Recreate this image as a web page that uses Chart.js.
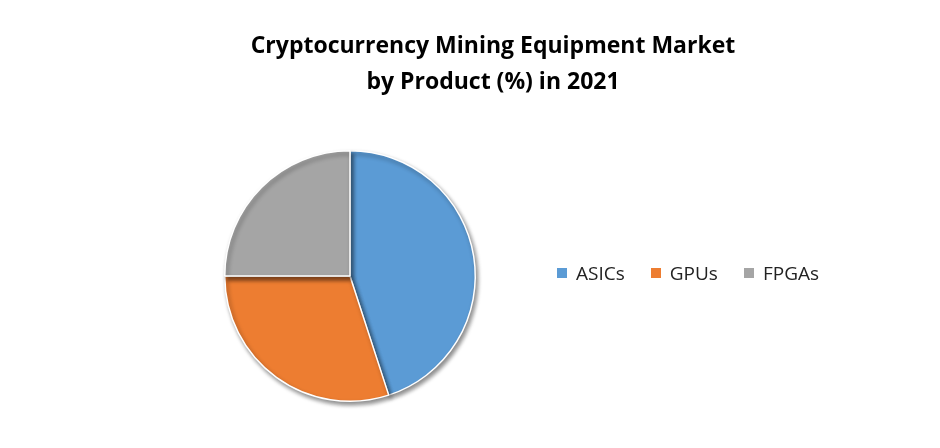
<!DOCTYPE html>
<html>
<head>
<meta charset="utf-8">
<script src="https://cdn.jsdelivr.net/npm/chart.js@4/dist/chart.umd.min.js"></script>
<style>
  body { margin: 0; background: #fff; }
  #wrap { position: relative; width: 940px; height: 448px; }
  #title { position: absolute; left: 0; width: 986px; top: 26px; text-align: center;
    font: bold 23px "Open Sans", "Liberation Sans", sans-serif; line-height: 36px; color: #000; }
  #legend { position: absolute; left: 557px; top: 260px; font: 19px "Open Sans", "Liberation Sans", sans-serif; color: #222; display: flex; }
  #legend span.item { display: flex; align-items: center; margin-right: 26px; }
  #legend i { display: inline-block; width: 10px; height: 10px; margin-right: 9px; }
</style>
</head>
<body>
<div id="wrap">
  <canvas id="pie" width="940" height="448"></canvas>
  <div id="title">Cryptocurrency Mining Equipment Market<br>by Product (%) in 2021</div>
  <div id="legend"></div>
</div>
<script>
const categories = ['ASICs', 'GPUs', 'FPGAs'];
const shares = [45, 30, 25];
const colors = ['#5B9BD5', '#ED7D31', '#A5A5A5'];

const legend = document.getElementById('legend');
categories.forEach((c, i) => {
  const s = document.createElement('span');
  s.className = 'item';
  s.innerHTML = '<i style="background:' + colors[i] + '"></i>' + c;
  legend.appendChild(s);
});

const shadow = {
  id: 'shadow',
  beforeDatasetsDraw(chart) {
    const ctx = chart.ctx;
    ctx.save();
    ctx.shadowColor = 'rgba(0,0,0,0.45)';
    ctx.shadowBlur = 4;
    ctx.shadowOffsetX = 2;
    ctx.shadowOffsetY = 3;
  },
  afterDatasetsDraw(chart) { chart.ctx.restore(); }
};

new Chart(document.getElementById('pie').getContext('2d'), {
  type: 'pie',
  data: {
    labels: categories,
    datasets: [{ data: shares, backgroundColor: colors, borderColor: '#fff', borderWidth: 1.5 }]
  },
  options: {
    responsive: false,
    animation: false,
    layout: { padding: { left: 220, right: 460, top: 150, bottom: 46 } },
    plugins: { legend: { display: false }, tooltip: { enabled: false } }
  },
  plugins: [shadow]
});
</script>
</body>
</html>
